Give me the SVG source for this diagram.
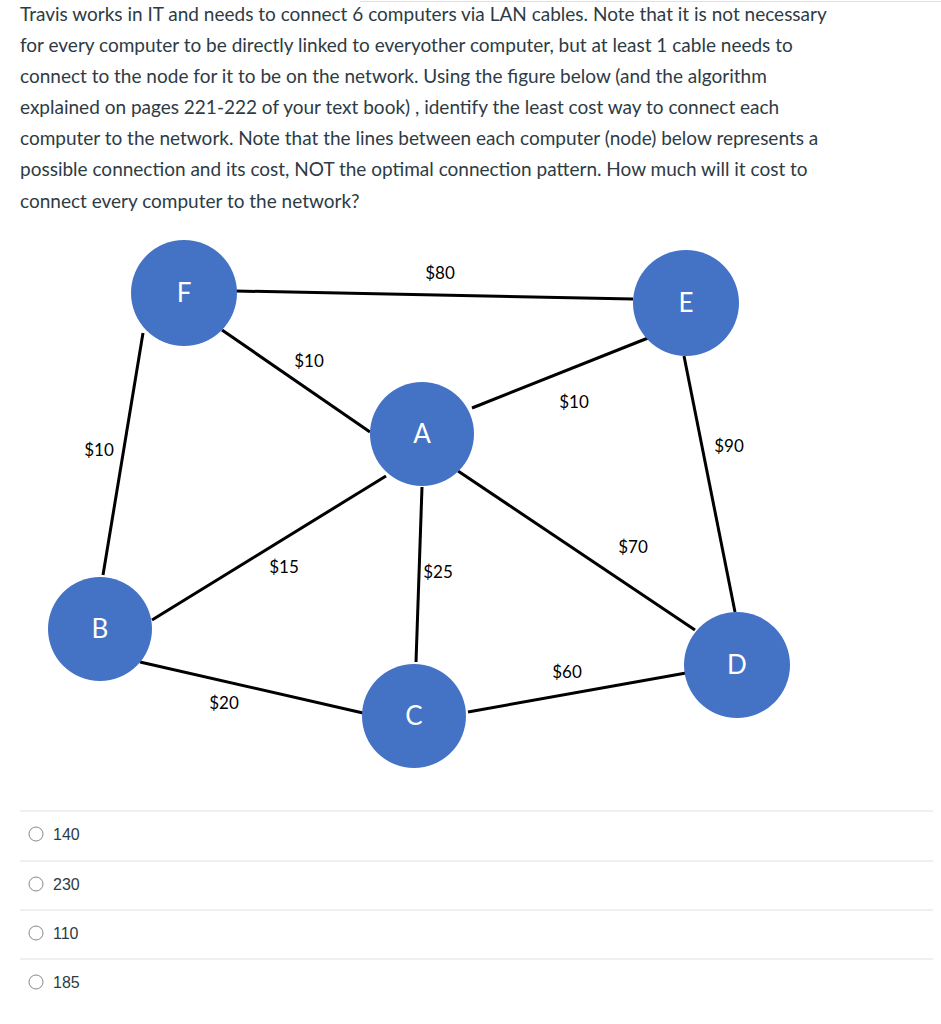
<svg xmlns="http://www.w3.org/2000/svg" width="941" height="1024" viewBox="0 0 941 1024">
<style>
.q{font-family:Lato,"Liberation Sans",sans-serif;font-size:19px;fill:#2d3b45}
.e{stroke:#000;stroke-width:3}
.n{fill:#4472c4}
.nl{font-family:Lato,"Liberation Sans",sans-serif;font-size:26px;fill:#fff;text-anchor:middle}
.c{font-family:Lato,"Liberation Sans",sans-serif;font-size:17px;fill:#000;text-anchor:middle}
.o{font-family:"Liberation Sans",sans-serif;font-size:16px;fill:#2d3b45}
.r{fill:#fff;stroke:#8a8a8a;stroke-width:1}
.sep{stroke:#e0e0e0;stroke-width:1}
</style>
<rect width="941" height="1024" fill="#fff"/>
<line x1="360" y1="1.5" x2="941" y2="1.5" class="sep"/>
<text class="q" x="20" y="21">Travis works in IT and needs to connect 6 computers via LAN cables.  Note that it is not necessary</text>
<text class="q" x="20" y="52">for every computer to be directly linked to everyother computer, but at least 1 cable needs to</text>
<text class="q" x="20" y="83">connect to the node for it to be on the network.  Using the figure below (and the algorithm</text>
<text class="q" x="20" y="114">explained on pages 221-222 of your text book) , identify the least cost way to connect each</text>
<text class="q" x="20" y="145">computer to the network.  Note that the lines between each computer (node) below represents a</text>
<text class="q" x="20" y="176">possible connection and its cost, NOT the optimal connection pattern.  How much will it cost to</text>
<text class="q" x="20" y="208">connect every computer to the network?</text>
<g id="connectors">
<line class="e" x1="236" y1="291" x2="633" y2="299"/>
<line class="e" x1="222" y1="330" x2="370" y2="432"/>
<line class="e" x1="143" y1="333" x2="103" y2="575"/>
<line class="e" x1="648" y1="338" x2="472" y2="408"/>
<line class="e" x1="684" y1="356" x2="735" y2="612"/>
<line class="e" x1="386" y1="476" x2="152" y2="620"/>
<line class="e" x1="422" y1="487" x2="416" y2="662"/>
<line class="e" x1="458" y1="471" x2="695" y2="630"/>
<line class="e" x1="140" y1="662" x2="363" y2="713"/>
<line class="e" x1="468" y1="712" x2="686" y2="673"/>
<text class="c" x="440" y="279">$80</text>
<text class="c" x="309" y="367">$10</text>
<text class="c" x="574" y="408">$10</text>
<text class="c" x="99" y="456">$10</text>
<text class="c" x="729" y="452">$90</text>
<text class="c" x="633" y="553">$70</text>
<text class="c" x="284" y="573">$15</text>
<text class="c" x="438" y="578">$25</text>
<text class="c" x="567" y="678">$60</text>
<text class="c" x="224" y="709">$20</text>
</g>
<g id="F"><circle class="n" cx="184" cy="293" r="53"/><text class="nl" x="184" y="302">F</text></g>
<g id="E"><circle class="n" cx="686" cy="303" r="53"/><text class="nl" x="686" y="312">E</text></g>
<g id="A"><circle class="n" cx="422" cy="434" r="52"/><text class="nl" x="422" y="443">A</text></g>
<g id="B"><circle class="n" cx="100" cy="629" r="52"/><text class="nl" x="100" y="638">B</text></g>
<g id="C"><circle class="n" cx="414" cy="716" r="52"/><text class="nl" x="414" y="725">C</text></g>
<g id="D"><circle class="n" cx="737" cy="665" r="53"/><text class="nl" x="737" y="674">D</text></g>
<line class="sep" x1="20" y1="811" x2="933" y2="811"/>
<line class="sep" x1="20" y1="861" x2="933" y2="861"/>
<line class="sep" x1="20" y1="910" x2="933" y2="910"/>
<line class="sep" x1="20" y1="959" x2="933" y2="959"/>
<circle class="r" cx="36" cy="834" r="7"/><text class="o" x="53" y="840">140</text>
<circle class="r" cx="36" cy="884" r="7"/><text class="o" x="53" y="890">230</text>
<circle class="r" cx="36" cy="933" r="7"/><text class="o" x="53" y="939">110</text>
<circle class="r" cx="36" cy="982" r="7"/><text class="o" x="53" y="988">185</text>
</svg>
